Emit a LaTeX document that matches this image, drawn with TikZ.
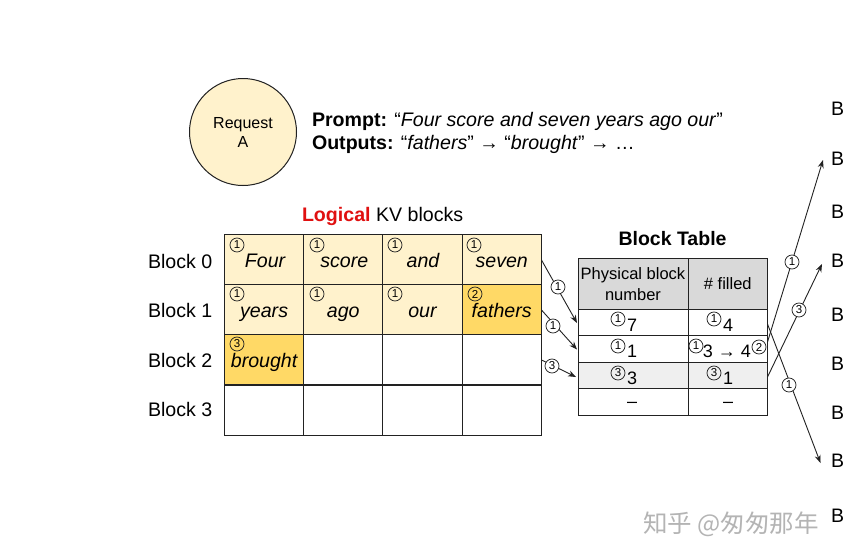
\documentclass[tikz,border=0pt]{standalone}
\usepackage{fontspec}
\setmainfont{Liberation Sans}
\newfontfamily\cjkfont{Noto Sans CJK SC}
\usetikzlibrary{arrows.meta}
\definecolor{lightcell}{HTML}{FFF2CC}
\definecolor{darkcell}{HTML}{FFD966}
\definecolor{headcell}{HTML}{D9D9D9}
\definecolor{rowcell}{HTML}{EFEFEF}
\definecolor{inkline}{HTML}{222222}
\definecolor{redword}{HTML}{E01010}
\definecolor{markgray}{HTML}{B4B4B4}
\tikzset{
  txt/.style={inner sep=0pt,outer sep=0pt,font=\fontsize{19.6}{22}\selectfont},
  lbl/.style={txt,anchor=base west},
  cellbox/.style={draw=inkline,line width=1pt,minimum width=79.2pt,minimum height=50pt,inner sep=0pt,outer sep=0pt,text height=18pt,text depth=3pt,font=\fontsize{19.6}{22}\selectfont\itshape},
  lite/.style={cellbox,fill=lightcell},
  dark/.style={cellbox,fill=darkcell},
  blank/.style={cellbox},
  tabbox/.style={draw=inkline,line width=1pt,inner sep=0pt,outer sep=0pt},
  tabl/.style={tabbox,minimum width=110pt},
  tabr/.style={tabbox,minimum width=79.5pt},
  num/.style={circle,draw=inkline,line width=0.75pt,minimum size=14pt,inner sep=0pt,font=\fontsize{11.5}{12}\selectfont},
  wnum/.style={num,fill=white},
  conn/.style={draw=inkline,line width=0.9pt,-{Stealth[length=8pt,width=6pt]}},
  tabtxt/.style={txt,font=\fontsize{18}{20}\selectfont},
  sidb/.style={inner sep=0pt,outer sep=0pt,anchor=west,font=\fontsize{19.5}{22}\selectfont},
}
\begin{document}
\begin{tikzpicture}[x=1pt,y=-1pt]
\useasboundingbox (0,0) rectangle (844,558);
\fill[white] (0,0) rectangle (844,558);

% request circle
\node[circle,draw=inkline,line width=1pt,fill=lightcell,minimum size=107pt,inner sep=0pt,align=center,font=\fontsize{16}{19}\selectfont] (req) at (243,132) {Request\\A};
\node[lbl] (prompt) at (312,126) {\textbf{Prompt:} “\textit{Four score and seven years ago our}”};
\node[lbl] (outputs) at (312,149) {\textbf{Outputs:} “\textit{fathers}” → “\textit{brought}” → …};

% logical blocks
\node[lbl] (logical) at (302,221) {\textcolor{redword}{\textbf{Logical}} KV blocks};
\node[lbl] (b0) at (148,268) {Block 0};
\node[lbl] (b1) at (148,317) {Block 1};
\node[lbl] (b2) at (148,367) {Block 2};
\node[lbl] (b3) at (148,416) {Block 3};

\node[lite] (c00) at (264.1,259.7) {\hspace{2pt}Four};
\node[lite] (c01) at (343.3,259.7) {\hspace{2pt}score};
\node[lite] (c02) at (422.5,259.7) {\hspace{1pt}and};
\node[lite] (c03) at (501.7,259.7) {seven};
\node[lite] (c10) at (264.1,309.7) {years};
\node[lite] (c11) at (343.3,309.7) {ago};
\node[lite] (c12) at (422.5,309.7) {our};
\node[dark] (c13) at (501.7,309.7) {fathers};
\node[dark] (c20) at (264.1,359.9) {brought};
\node[blank] (c21) at (343.3,359.9) {};
\node[blank] (c22) at (422.5,359.9) {};
\node[blank] (c23) at (501.7,359.9) {};
\node[blank] (c30) at (264.1,410) {};
\node[blank] (c31) at (343.3,410) {};
\node[blank] (c32) at (422.5,410) {};
\node[blank] (c33) at (501.7,410) {};

\node[num] (n00) at (237,245) {1};
\node[num] (n01) at (317,245) {1};
\node[num] (n02) at (395,245) {1};
\node[num] (n03) at (474,245) {1};
\node[num] (n10) at (237,294) {1};
\node[num] (n11) at (317,294) {1};
\node[num] (n12) at (395,294) {1};
\node[num] (n13) at (475,294) {2};
\node[num] (n20) at (237,344) {3};

% block table
\node[txt,anchor=base,font=\fontsize{19.5}{22}\bfseries\selectfont] (ttitle) at (672.5,245) {Block Table};
\node[tabl,fill=headcell,minimum height=50.5pt,align=center,font=\fontsize{16.5}{21}\selectfont] (h0) at (633,284) {Physical block\\number};
\node[tabr,fill=headcell,minimum height=50.5pt,font=\fontsize{16.5}{20}\selectfont] (h1) at (727.8,284) {\# filled};
\node[tabl,minimum height=26.7pt] (t1a) at (633,322.4) {};
\node[tabr,minimum height=26.7pt] (t1b) at (727.8,322.4) {};
\node[tabl,minimum height=26.7pt] (t2a) at (633,349) {};
\node[tabr,minimum height=26.7pt] (t2b) at (727.8,349) {};
\node[tabl,fill=rowcell,minimum height=26.7pt] (t3a) at (633,375.6) {};
\node[tabr,fill=rowcell,minimum height=26.7pt] (t3b) at (727.8,375.6) {};
\node[tabl,minimum height=26.7pt] (t4a) at (633,402.2) {};
\node[tabr,minimum height=26.7pt] (t4b) at (727.8,402.2) {};

\node[num] (a1) at (618,319) {1};
\node[tabtxt] (a1t) at (632,325) {7};
\node[num] (a2) at (618,346) {1};
\node[tabtxt] (a2t) at (632,351) {1};
\node[num] (a3) at (618,373) {3};
\node[tabtxt] (a3t) at (632,378) {3};
\node[tabtxt] (a4t) at (632,405) {–};
\node[num] (d1) at (714,319) {1};
\node[tabtxt] (d1t) at (728,325) {4};
\node[num] (d2) at (696,346) {1};
\node[tabtxt] (d2t) at (727,351) {3 → 4};
\node[num] (d2b) at (759,347) {2};
\node[num] (d3) at (714,373) {3};
\node[tabtxt] (d3t) at (728,378) {1};
\node[tabtxt] (d4t) at (728,405) {–};

% right-hand column
\node[sidb] (r0) at (831,109) {B};
\node[sidb] (r1) at (831,159) {B};
\node[sidb] (r2) at (831,212) {B};
\node[sidb] (r3) at (831,261) {B};
\node[sidb] (r4) at (831,315) {B};
\node[sidb] (r5) at (831,364) {B};
\node[sidb] (r6) at (831,413) {B};
\node[sidb] (r7) at (831,461) {B};
\node[sidb] (r8) at (831,516) {B};

% connectors
\coordinate (s1) at (541.5,260);
\coordinate (s2) at (541.5,310);
\coordinate (s3) at (541.5,360);
\coordinate (e1) at (577,323);
\coordinate (e2) at (577,349.5);
\coordinate (e3) at (576,377);
\coordinate (u1) at (767.5,342);
\coordinate (u1e) at (823,160);
\coordinate (u3) at (767.5,377);
\coordinate (u3e) at (822,264);
\coordinate (d1s) at (767.5,324);
\coordinate (d1e) at (820.5,463);
\draw[conn] (s1) -- (e1);
\draw[conn] (s2) -- (e2);
\draw[conn] (s3) -- (e3);
\draw[conn] (u1) -- (u1e);
\draw[conn] (u3) -- (u3e);
\draw[conn] (d1s) -- (d1e);
\node[wnum] (w1) at (558,287) {1};
\node[wnum] (w2) at (553,326) {1};
\node[wnum] (w3) at (552,366) {3};
\node[wnum] (w4) at (792,262) {1};
\node[wnum] (w5) at (799,310) {3};
\node[wnum] (w6) at (789,385) {1};

% mark in the lower right corner
\node[txt,anchor=base west,text=markgray,font=\fontsize{24.5}{26}\selectfont\cjkfont] (mark) at (643,532) {知乎 @匆匆那年};
\end{tikzpicture}
\end{document}
